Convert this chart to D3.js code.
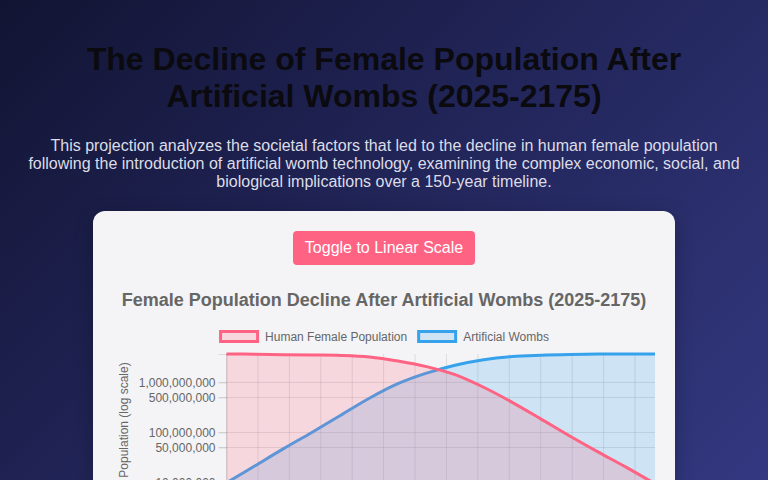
<!DOCTYPE html>
<html>
<head>
<meta charset="utf-8">
<script src="https://cdn.jsdelivr.net/npm/d3@7"></script>
<style>
  html, body { margin: 0; }
  body {
    padding: 20px;
    font-family: "Liberation Sans", Arial, Helvetica, sans-serif;
    background: linear-gradient(135deg, #121433 0%, #262a63 55%, #363c88 100%);
    min-height: 100vh;
    box-sizing: border-box;
  }
  h1 { text-align: center; font-size: 32px; margin: 21.44px 0; color: #0a0a0f; }
  p.subtitle { text-align: center; font-size: 16px; color: #dcdde8; margin: 16px 0; }
  .card {
    width: 80%; margin: 20px auto; box-sizing: border-box; padding: 20px;
    background: #f4f4f6; border-radius: 12px;
    box-shadow: 0 4px 18px rgba(0,0,0,0.25);
  }
  .btnrow { text-align: center; }
  button {
    font-family: inherit; font-size: 16px; padding: 8px 12px; border: none;
    border-radius: 4px; background: #ff6384; color: #fff; cursor: pointer;
  }
  #graph-container svg { display: block; margin-top: 10px; overflow: visible; }
</style>
</head>
<body>
<h1>The Decline of Female Population After Artificial Wombs (2025-2175)</h1>
<p class="subtitle">This projection analyzes the societal factors that led to the decline in human female population following the introduction of artificial womb technology, examining the complex economic, social, and biological implications over a 150-year timeline.</p>
<div class="card">
  <div class="btnrow"><button>Toggle to Linear Scale</button></div>
  <div id="graph-container"></div>
</div>
<script>
// data
const years = [2025, 2035, 2045, 2055, 2065, 2075, 2085, 2095, 2105, 2115, 2125, 2135, 2145, 2155, 2165, 2175];
const femalePop = [3.70e9, 3.67e9, 3.58e9, 3.53e9, 3.47e9, 3.24e9, 2.69e9, 2.07e9, 1.43e9, 8.0e8, 4.0e8, 1.87e8, 8.6e7, 4.1e7, 2.0e7, 9.4e6];
const wombPop = [9.86e6, 2.16e7, 4.74e7, 1.01e8, 2.21e8, 4.83e8, 9.43e8, 1.53e9, 2.21e9, 2.85e9, 3.30e9, 3.50e9, 3.62e9, 3.68e9, 3.69e9, 3.70e9];
const seriesNames = ["Human Female Population", "Artificial Wombs"];
const xTicks = [2025, 2036, 2047, 2058, 2069, 2080, 2091, 2102, 2113, 2124, 2135, 2146, 2157, 2168];
const yTicks = [1e7, 5e7, 1e8, 5e8, 1e9];
const yMin = 8.5e6;

const width = 542;
const height = 270;
const margin = { top: 79, right: 0, bottom: 59, left: 113.5 };

const colors = {
  pink: "rgb(255,99,132)",
  pinkFill: "rgba(255,99,132,0.2)",
  blue: "rgb(54,162,235)",
  blueFill: "rgba(54,162,235,0.2)",
  text: "#666",
  grid: "rgba(0,0,0,0.1)",
};

const svg = d3
  .select("#graph-container")
  .append("svg")
  .attr("width", width)
  .attr("height", height)
  .style("font-family", "'Liberation Sans', Arial, Helvetica, sans-serif");

const x = d3
  .scaleLinear()
  .domain([years[0], years[years.length - 1]])
  .range([margin.left, width - margin.right]);

const y = d3
  .scaleLog()
  .domain([yMin, d3.max([...femalePop, ...wombPop])])
  .range([height - margin.bottom, margin.top]);

//title
svg
  .append("text")
  .attr("x", width / 2)
  .attr("y", 25)
  .attr("dy", "0.35em")
  .attr("text-anchor", "middle")
  .attr("font-size", 18)
  .attr("font-weight", "bold")
  .attr("fill", colors.text)
  .text("Female Population Decline After Artificial Wombs (2025-2175)");

//legend
const legendItems = [
  { name: seriesNames[0], stroke: colors.pink, fill: colors.pinkFill },
  { name: seriesNames[1], stroke: colors.blue, fill: colors.blueFill },
];
const legend = svg.append("g");
let lx = 0;
legendItems.forEach((d) => {
  const g = legend.append("g").attr("transform", `translate(${lx},0)`);
  g.append("rect")
    .attr("x", 1.5).attr("y", 56.5)
    .attr("width", 37).attr("height", 10)
    .attr("fill", d.fill).attr("stroke", d.stroke).attr("stroke-width", 3);
  const t = g.append("text")
    .attr("x", 46).attr("y", 62).attr("dy", "0.35em")
    .attr("font-size", 12).attr("fill", colors.text)
    .text(d.name);
  lx += 46 + t.node().getComputedTextLength() + 10;
});
legend.attr("transform", `translate(${(width - (lx - 10)) / 2},0)`);

//grid
const grid = svg.append("g");
grid.selectAll("line.v")
  .data(xTicks)
  .enter()
  .append("line")
  .attr("x1", (d) => x(d)).attr("x2", (d) => x(d))
  .attr("y1", margin.top).attr("y2", height - margin.bottom + 8)
  .attr("stroke", colors.grid);
grid.selectAll("line.h")
  .data(yTicks)
  .enter()
  .append("line")
  .attr("x1", margin.left - 8).attr("x2", width - margin.right)
  .attr("y1", (d) => y(d)).attr("y2", (d) => y(d))
  .attr("stroke", colors.grid);

//areas and lines
const curve = d3.curveCatmullRom.alpha(0.5);
const area = (vals) =>
  d3.area()
    .x((d, i) => x(years[i]))
    .y0(height - margin.bottom)
    .y1((d) => y(d))
    .curve(curve)(vals);
const line = (vals) =>
  d3.line()
    .x((d, i) => x(years[i]))
    .y((d) => y(d))
    .curve(curve)(vals);

svg.append("clipPath").attr("id", "clip")
  .append("rect")
  .attr("x", margin.left - 2).attr("y", margin.top - 2)
  .attr("width", width - margin.left + 2)
  .attr("height", height - margin.top - margin.bottom + 4);
const plot = svg.append("g").attr("clip-path", "url(#clip)");

plot.append("path").attr("d", area(wombPop)).attr("fill", colors.blueFill);
plot.append("path").attr("d", line(wombPop)).attr("fill", "none")
  .attr("stroke", colors.blue).attr("stroke-width", 3);
plot.append("path").attr("d", area(femalePop)).attr("fill", colors.pinkFill);
plot.append("path").attr("d", line(femalePop)).attr("fill", "none")
  .attr("stroke", colors.pink).attr("stroke-width", 3);

//axes
const yAxis = svg.append("g")
  .attr("transform", `translate(${margin.left},0)`)
  .call(d3.axisLeft(y).tickValues(yTicks).tickFormat(d3.format(",")).tickSize(8).tickPadding(3));
const xAxis = svg.append("g")
  .attr("transform", `translate(0,${height - margin.bottom})`)
  .call(d3.axisBottom(x).tickValues(xTicks).tickFormat(d3.format("d")).tickSize(8).tickPadding(3));
[xAxis, yAxis].forEach((a) => {
  a.select(".domain").attr("stroke", colors.grid);
  a.selectAll(".tick line").attr("stroke", colors.grid);
  a.selectAll(".tick text").attr("fill", colors.text).attr("font-size", 12)
    .style("font-family", "'Liberation Sans', Arial, sans-serif");
});

svg.append("text")
  .attr("transform", `translate(11,${(margin.top + height - margin.bottom) / 2}) rotate(-90)`)
  .attr("text-anchor", "middle")
  .attr("dy", "0.35em")
  .attr("font-size", 12)
  .attr("fill", colors.text)
  .text("Population (log scale)");

svg.append("text")
  .attr("x", (margin.left + width) / 2)
  .attr("y", height - 10)
  .attr("text-anchor", "middle")
  .attr("font-size", 12)
  .attr("fill", colors.text)
  .text("Year");
</script>
</body>
</html>
